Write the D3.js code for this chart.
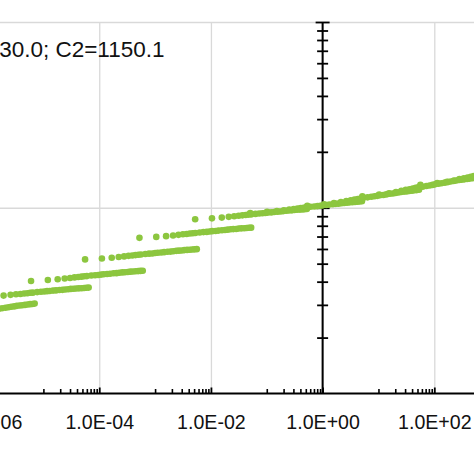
<!DOCTYPE html>
<html>
<head>
<meta charset="utf-8">
<script src="https://cdn.jsdelivr.net/npm/d3@7"></script>
<style>
  html, body { margin: 0; padding: 0; background: #fff; }
  svg { display: block; }
</style>
</head>
<body>
<svg id="chart" width="474" height="474"></svg>
<script>
// ---------------- DATA ----------------
// frequency sweep (Hz) measured at each temperature
const sweepFreq = [0.1,0.2,0.3,0.4,0.5,0.6,0.7,0.8,0.9,1.0,1.2,1.4,1.6,1.8,2.0,2.3,2.6,3.0,3.4,3.8,4.3,4.8,5.4,6.0,6.7,7.5,8.3,9.1,10.0];
// horizontal shift factor aT of each sweep (reduced frequency = f * aT)
const shiftFactor = [6.97e-7, 6.46e-6, 6.01e-5, 5.58e-4, 5.25e-3, 5.22e-2, 0.506, 5.32, 51.5, 564];
// log10 of modulus for each sweep (one array per temperature)
const logG_1 = [2.398,2.406,2.412,2.418,2.423,2.427,2.431,2.434,2.437,2.439,2.443,2.446,2.449,2.451,2.454,2.456,2.459,2.462,2.464,2.467,2.469,2.472,2.474,2.475,2.477,2.479,2.481,2.482,2.484];
const logG_2 = [2.519,2.524,2.527,2.531,2.534,2.536,2.538,2.540,2.542,2.543,2.546,2.548,2.549,2.551,2.552,2.554,2.555,2.557,2.558,2.560,2.561,2.563,2.564,2.565,2.566,2.567,2.568,2.569,2.570];
const logG_3 = [2.606,2.611,2.615,2.619,2.622,2.625,2.627,2.629,2.631,2.632,2.635,2.637,2.638,2.640,2.642,2.643,2.645,2.647,2.648,2.650,2.652,2.653,2.654,2.656,2.657,2.658,2.659,2.660,2.661];
const logG_4 = [2.722,2.727,2.731,2.735,2.738,2.741,2.743,2.745,2.747,2.748,2.751,2.753,2.754,2.756,2.758,2.759,2.761,2.763,2.764,2.766,2.768,2.769,2.770,2.772,2.773,2.774,2.775,2.776,2.777];
const logG_5 = [2.838,2.843,2.847,2.851,2.854,2.857,2.859,2.861,2.863,2.864,2.867,2.869,2.870,2.872,2.874,2.875,2.877,2.879,2.880,2.882,2.884,2.885,2.886,2.888,2.889,2.890,2.891,2.892,2.893];
const logG_6 = [2.938,2.943,2.947,2.951,2.954,2.957,2.959,2.961,2.963,2.964,2.967,2.969,2.970,2.972,2.974,2.975,2.977,2.979,2.980,2.982,2.984,2.985,2.986,2.988,2.989,2.990,2.991,2.992,2.993];
const logG_7 = [2.972,2.978,2.982,2.986,2.990,2.993,2.996,2.998,3.000,3.002,3.005,3.007,3.009,3.011,3.013,3.015,3.017,3.019,3.021,3.022,3.024,3.026,3.027,3.029,3.030,3.031,3.032,3.034,3.035];
const logG_8 = [3.011,3.019,3.025,3.031,3.036,3.040,3.044,3.047,3.050,3.052,3.056,3.059,3.062,3.064,3.067,3.069,3.072,3.075,3.077,3.080,3.082,3.085,3.087,3.088,3.090,3.092,3.094,3.095,3.097];
const logG_9 = [3.062,3.071,3.078,3.085,3.091,3.096,3.100,3.104,3.107,3.110,3.113,3.117,3.120,3.123,3.126,3.129,3.132,3.135,3.138,3.141,3.144,3.147,3.149,3.151,3.153,3.155,3.157,3.159,3.161];
const logG_10 = [3.124,3.133,3.140,3.147,3.154,3.159,3.163,3.167,3.170,3.173,3.177,3.181,3.184,3.187,3.190,3.193,3.196,3.199,3.203,3.206,3.209,3.212,3.214,3.216,3.218,3.220,3.222,3.224,3.226];
const sweeps = [logG_1, logG_2, logG_3, logG_4, logG_5, logG_6, logG_7, logG_8, logG_9, logG_10];

const xTickValues = [1e-6, 1e-4, 1e-2, 1e0, 1e2];
const xTickLabels = ["1.0E-06", "1.0E-04", "1.0E-02", "1.0E+00", "1.0E+02"];
const yGridValues = [1e3, 1e4];
const annotationText = "C1=30.0; C2=1150.1";

// ---------------- CHART ----------------
const W = 474, H = 474;
const svg = d3.select("#chart");
const FONT = "'Liberation Sans', Arial, sans-serif";

const plotTop = 22, plotBottom = 393.5;
const x = d3.scaleLog().domain([1e-6, 1e2]).range([-12.45, 434.3]);
const y = d3.scaleLog().domain([1e2, 1e4]).range([plotBottom, plotTop]);

const gridColor = "#d9d9d9";

// vertical gridlines
const gx = svg.append("g").attr("transform", `translate(0,${plotBottom})`)
  .call(d3.axisBottom(x).tickValues(xTickValues).tickSize(-(plotBottom - plotTop)).tickFormat(""));
gx.select(".domain").remove();
gx.selectAll("line").attr("stroke", gridColor).attr("stroke-width", 1.3);

// horizontal gridlines
const gy = svg.append("g").attr("transform", `translate(0,0)`)
  .call(d3.axisLeft(y).tickValues(yGridValues).tickSize(-W).tickFormat(""));
gy.select(".domain").remove();
gy.selectAll("line").attr("stroke", gridColor).attr("stroke-width", 1.3);

// minor x ticks: k * 10^(n-1) before each labelled decade
const minorX = [];
xTickValues.forEach(v => { for (let k = 1; k <= 9; k++) minorX.push(k * v / 10); });
const xMinor = svg.append("g").attr("transform", `translate(0,${plotBottom})`)
  .call(d3.axisTop(x).tickValues(minorX).tickSize(4.5).tickFormat(""));
xMinor.select(".domain").remove();
xMinor.selectAll("line").attr("stroke", "#000").attr("stroke-width", 1.6);

// major x ticks + labels
const xMajor = svg.append("g").attr("transform", `translate(0,${plotBottom})`)
  .call(d3.axisTop(x).tickValues(xTickValues).tickSize(6).tickFormat(""));
xMajor.select(".domain").remove();
xMajor.selectAll("line").attr("stroke", "#000").attr("stroke-width", 1.8);

const xLab = svg.append("g").attr("transform", `translate(0,${plotBottom})`)
  .call(d3.axisBottom(x).tickValues(xTickValues).tickSize(0).tickPadding(22)
        .tickFormat((d, i) => xTickLabels[i]));
xLab.select(".domain").remove();
xLab.selectAll("text").attr("font-family", FONT).attr("font-size", 19.6).attr("fill", "#111");

// x axis line
svg.append("line").attr("x1", 0).attr("x2", W).attr("y1", plotBottom).attr("y2", plotBottom)
  .attr("stroke", "#000").attr("stroke-width", 2);

// y axis (crosses at x = 1)
const yMinor = [];
[1e2, 1e3].forEach(v => { for (let k = 2; k <= 9; k++) yMinor.push(k * v); });
const yAx = svg.append("g").attr("transform", `translate(${x(1)},0)`)
  .call(d3.axisLeft(y).tickValues(yMinor).tickSize(5.5).tickFormat(""));
yAx.select(".domain").remove();
yAx.selectAll("line").attr("x1", 5.5).attr("stroke", "#000").attr("stroke-width", 1.8);
const yAxMaj = svg.append("g").attr("transform", `translate(${x(1)},0)`)
  .call(d3.axisLeft(y).tickValues(yGridValues).tickSize(7).tickFormat(""));
yAxMaj.select(".domain").remove();
yAxMaj.selectAll("line").attr("x1", 7).attr("stroke", "#000").attr("stroke-width", 1.8);
svg.append("line").attr("x1", x(1)).attr("x2", x(1)).attr("y1", plotTop).attr("y2", plotBottom)
  .attr("stroke", "#000").attr("stroke-width", 2);

// annotation
svg.append("text").attr("x", 164.5).attr("y", 57).attr("text-anchor", "end")
  .attr("font-family", FONT).attr("font-size", 22.5).attr("fill", "#111")
  .text(annotationText);

// data points
const points = [];
sweeps.forEach((arr, si) => {
  arr.forEach((lg, i) => points.push({ f: sweepFreq[i] * shiftFactor[si], g: Math.pow(10, lg) }));
});
svg.append("g").selectAll("circle").data(points).join("circle")
  .attr("cx", d => x(d.f)).attr("cy", d => y(d.g)).attr("r", 3.3)
  .attr("fill", "#8cc63f");
</script>
</body>
</html>
